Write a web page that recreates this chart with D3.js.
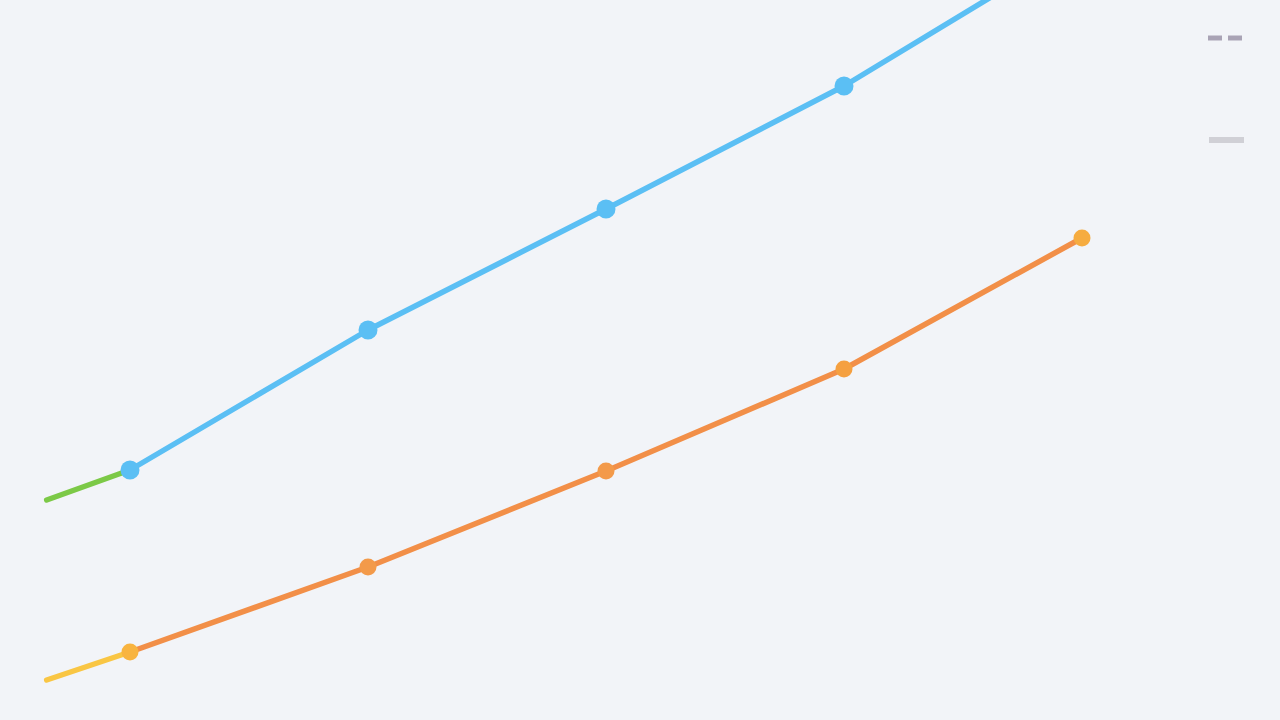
<!DOCTYPE html>
<html><head><meta charset="utf-8">
<script src="https://cdn.jsdelivr.net/npm/d3@7"></script>
<style>html,body{margin:0;padding:0;background:#f2f4f8;}svg{display:block;}</style>
</head><body>
<svg id="c" width="1280" height="720"></svg>
<script>
const periods = [-0.35, 0, 1, 2, 3, 4];
const seriesA = [220, 250, 390, 511, 634, 778];
const seriesB = [40, 68, 153, 249, 351, 482];
const legendItems = ["dashed", "solid"];

const W = 1280, H = 720;
const svg = d3.select("#c");
svg.append("rect").attr("width", W).attr("height", H).attr("fill", "#f2f4f8");

const x = d3.scaleLinear().domain([0, 4]).range([130, 1082]);
const y = d3.scaleLinear().domain([0, 720]).range([720, 0]);

const line = d3.line().x(d => x(d[0])).y(d => y(d[1]));

function drawSeries(vals, headColor, bodyColor, markerColors, r) {
  const pts = periods.map((p, i) => [p, vals[i]]);
  svg.append("path").datum(pts.slice(0, 2)).attr("d", line)
    .attr("fill", "none").attr("stroke", headColor).attr("stroke-width", 5.5)
    .attr("stroke-linecap", "round");
  svg.append("path").datum(pts.slice(1)).attr("d", line)
    .attr("fill", "none").attr("stroke", bodyColor).attr("stroke-width", 5.5)
    .attr("stroke-linecap", "round").attr("stroke-linejoin", "round");
  svg.selectAll(null).data(pts.slice(1)).enter().append("circle")
    .attr("cx", d => x(d[0])).attr("cy", d => y(d[1])).attr("r", r)
    .attr("fill", (d, i) => markerColors[i]);
}

drawSeries(seriesA, "#7cc947", "#5bbff4", ["#5bbff4","#5bbff4","#5bbff4","#5bbff4","#5bbff4"], 9.5);
drawSeries(seriesB, "#f9c644", "#f28f48", ["#f8b440","#f39a4a","#f39a4a","#f5a040","#f6ac40"], 8.5);

// legend swatches
const lg = svg.append("g");
lg.append("line").attr("x1", 1208).attr("x2", 1244).attr("y1", 38).attr("y2", 38)
  .attr("stroke", "#a9a3b5").attr("stroke-width", 5).attr("stroke-dasharray", "14,6");
lg.append("line").attr("x1", 1209).attr("x2", 1244).attr("y1", 140).attr("y2", 140)
  .attr("stroke", "#d0d0d6").attr("stroke-width", 6);
</script>
</body></html>
